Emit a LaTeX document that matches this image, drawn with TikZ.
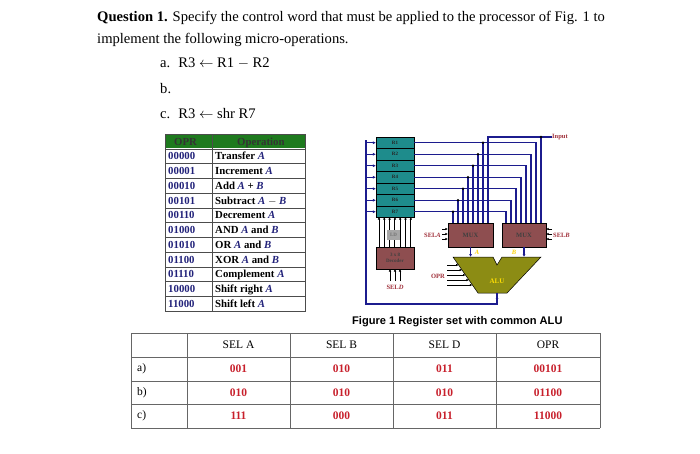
\documentclass[tikz,border=0pt]{standalone}
\usepackage{fontspec}
\setmainfont{Liberation Serif}
\setsansfont{Liberation Sans}
\usetikzlibrary{arrows.meta}
\definecolor{bus}{HTML}{1C1C8E}
\definecolor{regc}{HTML}{1E8C8C}
\definecolor{muxc}{HTML}{8E4E50}
\definecolor{aluc}{HTML}{8C8C14}
\definecolor{grn}{HTML}{1E7A1E}
\definecolor{lbl}{HTML}{A0303A}
\definecolor{ans}{HTML}{C8202C}
\definecolor{codeb}{HTML}{22227A}
\tikzset{
  qtext/.style={anchor=base west,inner sep=0pt,font=\fontsize{14.6}{16}\selectfont},
  busl/.style={draw=bus,line width=1.1pt},
  arr/.style={busl,-{Latex[length=3pt,width=3pt]}},
  karr/.style={draw=black,line width=0.9pt,-{Latex[length=2.5pt,width=2.5pt]}},
  regbox/.style={draw=black,fill=regc,minimum width=38pt,minimum height=11.5pt,inner sep=0pt,font=\fontsize{5}{5}\bfseries\selectfont,text=black!85},
  muxbox/.style={draw=black,fill=muxc,inner sep=0pt,font=\fontsize{6.5}{6.5}\bfseries\selectfont,text=black!75},
  redlbl/.style={text=lbl,font=\fontsize{6.5}{6.5}\bfseries\selectfont,inner sep=0pt},
  dot/.style={circle,fill=black,inner sep=0pt,minimum size=2.6pt},
  cell/.style={inner sep=0pt,font=\fontsize{11.5}{11.5}\selectfont},
  anscell/.style={cell,text=ans,font=\fontsize{11.5}{11.5}\bfseries\selectfont},
  opc/.style={anchor=base west,inner sep=0pt,font=\fontsize{10.8}{11}\bfseries\selectfont},
}
\begin{document}
\begin{tikzpicture}[x=1pt,y=-1pt]
\useasboundingbox[fill=white] (0,0) rectangle (700,453);
% question text
\node[qtext] (q1) at (97,21) {\textbf{Question 1.} Specify the control word that must be applied to the processor of Fig. 1 to};
\node[qtext] (q2) at (97,43) {implement the following micro-operations.};
\node[qtext] (qa) at (160,67) {a.\hspace{8pt}R3 $\leftarrow$ R1 $-$ R2};
\node[qtext] (qb) at (160,93) {b.};
\node[qtext] (qc) at (160,118) {c.\hspace{8pt}R3 $\leftarrow$ shr R7};

% OPR table
\fill[grn] (165,134) rectangle (305,147.5);
\foreach \i in {0,...,11} {\draw[black!70,line width=0.5pt] (165,{134+\i*14.75}) -- (305,{134+\i*14.75});}
\draw[black!70,line width=0.6pt] (165,134) rectangle (305,311);
\draw[black!70,line width=0.5pt] (212,134) -- (212,311);
\node[opc,text=black!80] (h1) at (174,145) {OPR};
\node[opc,text=black!80] (h2) at (237,145) {Operation};
\foreach \c/\t [count=\i] in {00000/{Transfer \textit{\textcolor{codeb}{A}}},00001/{Increment \textit{\textcolor{codeb}{A}}},00010/{Add \textit{\textcolor{codeb}{A}} + \textit{\textcolor{codeb}{B}}},00101/{Subtract \textit{\textcolor{codeb}{A}} $-$ \textit{\textcolor{codeb}{B}}},00110/{Decrement \textit{\textcolor{codeb}{A}}},01000/{AND \textit{\textcolor{codeb}{A}} and \textit{\textcolor{codeb}{B}}},01010/{OR \textit{\textcolor{codeb}{A}} and \textit{\textcolor{codeb}{B}}},01100/{XOR \textit{\textcolor{codeb}{A}} and \textit{\textcolor{codeb}{B}}},01110/{Complement \textit{\textcolor{codeb}{A}}},10000/{Shift right \textit{\textcolor{codeb}{A}}},11000/{Shift left \textit{\textcolor{codeb}{A}}}} {
  \node[opc,text=codeb] (c\i) at (168,{145+\i*14.75}) {\c};
  \node[opc] (t\i) at (215,{145+\i*14.75}) {\t};
}

% registers
\foreach \i in {1,...,7} {\node[regbox] (r\i) at (395,{137+(\i-0.5)*11.5}) {R\i};}
\coordinate (bl) at (366,304);
\coordinate (bt) at (366,140);
\coordinate (br) at (497,304);
\node[muxbox,minimum width=38pt,minimum height=22pt,align=center,font=\fontsize{5}{5.5}\bfseries\selectfont] (dec) at (395,258) {3 x 8\\Decoder};
\node[muxbox,minimum width=45pt,minimum height=24pt] (muxa) at (470.5,235) {MUX};
\node[muxbox,minimum width=44pt,minimum height=24pt] (muxb) at (524,235) {MUX};
% ALU
\coordinate (a1) at (453,257);
\coordinate (a7) at (478,293);
\coordinate (ab) at (497,293);
\fill[aluc,draw=black,line width=0.5pt] (a1) -- (493,257) -- (497,265) -- (502,257) -- (541,257) -- (507,293) -- (a7) -- cycle;
\node[text=yellow!80!orange,font=\fontsize{7}{7}\bfseries\selectfont,inner sep=0pt] (alu) at (497,281) {ALU};
% bus loop
\draw[busl] (ab) -- (br) -- (bl) -- (bt);
\draw[arr] (ab) -- (497,301);
\foreach \i in {1,...,7} {\draw[arr] (366,{137+(\i-0.5)*11.5}) -- (r\i.west);}
% register outputs
\foreach \i in {1,...,7} {
  \pgfmathsetmacro{\ya}{137+(\i-0.5)*11.5}
  \pgfmathsetmacro{\xa}{488-5*\i}
  \pgfmathsetmacro{\xb}{541-5*\i}
  \draw[busl] (r\i.east) -- (\xb,\ya) -- (\xb,223);
  \draw[busl] (\xa,\ya) -- (\xa,223);
  \node[dot] at (\xa,\ya) {};
}
\node[anchor=west,inner sep=0pt,text=lbl,font=\fontsize{6.5}{6.5}\bfseries\selectfont] (inp) at (552,137) {Input};
\draw[busl] (inp.west) -- (488,137) -- (488,223);
\draw[busl] (541,137) -- (541,223);
\node[dot] at (541,137) {};
% decoder to registers
\foreach \k in {0,...,6} {\draw[karr] ({379+\k*5.3},247) -- ({379+\k*5.3},217);}
\fill[black!35] (387,230) rectangle (400,240);
\node[inner sep=0pt,font=\fontsize{5}{5}\bfseries\selectfont,text=black!55] (ld) at (393.5,235) {LD};
\foreach \k in {0,1,2} {\draw[karr] ({390+\k*5},281) -- ({390+\k*5},269);}
\node[redlbl] (seld) at (395,287) {SEL\textit{D}};
% SELA / SELB
\foreach \k in {0,1,2} {\draw[karr] (442,{229+\k*5}) -- (muxa.west |- 0,{229+\k*5});}
\node[redlbl,anchor=east] (sela) at (441,235) {SEL\textit{A}};
\foreach \k in {0,1,2} {\draw[karr] (552,{229+\k*5}) -- (muxb.east |- 0,{229+\k*5});}
\node[redlbl,anchor=west] (selb) at (553,235) {SEL\textit{B}};
% MUX outputs
\draw[arr] (muxa.south) -- (470.5,257);
\draw[arr] (muxb.south) -- (524,257);
\node[redlbl,text=yellow!70!orange] at (477,252) {\textit{A}};
\node[redlbl,text=yellow!70!orange] at (514,252) {\textit{B}};
% OPR
\node[redlbl,anchor=east] (opr) at (445,276) {OPR};
\foreach \k in {0,...,4} {
  \pgfmathsetmacro{\yy}{265+\k*5}
  \pgfmathsetmacro{\xx}{453+25*(\yy-257)/36}
  \draw[karr] (447,\yy) -- (\xx,\yy);
}
\node[anchor=base west,inner sep=0pt,font=\sffamily\bfseries\fontsize{11.1}{12}\selectfont] (cap) at (352,324) {Figure 1 Register set with common ALU};

% answer table
\foreach \y in {333,357,381,404,428} {\draw[black!60,line width=0.5pt] (131,\y) -- (600,\y);}
\foreach \x in {131,187,290,393,496,600} {\draw[black!60,line width=0.5pt] (\x,333) -- (\x,428);}
\node[cell] (hA) at (238.5,345) {SEL A};
\node[cell] (hB) at (341.5,345) {SEL B};
\node[cell] (hD) at (444.5,345) {SEL D};
\node[cell] (hO) at (548,345) {OPR};
\foreach \l/\a/\b/\d/\o/\y in {a)/001/010/011/00101/369, b)/010/010/010/01100/392.5, c)/111/000/011/11000/416} {
  \node[cell,anchor=west] at (137,\y) {\l};
  \node[anscell] at (238.5,\y) {\a};
  \node[anscell] at (341.5,\y) {\b};
  \node[anscell] at (444.5,\y) {\d};
  \node[anscell] at (548,\y) {\o};
}
\end{tikzpicture}
\end{document}
